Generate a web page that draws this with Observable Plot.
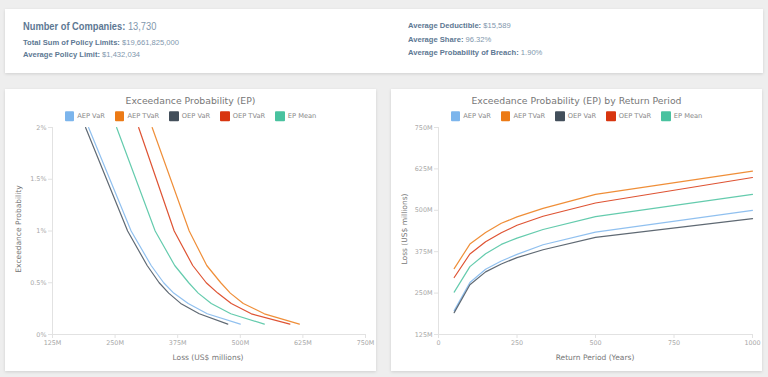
<!DOCTYPE html>
<html>
<head>
<meta charset="utf-8">
<script src="https://cdn.jsdelivr.net/npm/d3@7"></script>
<script src="https://cdn.jsdelivr.net/npm/@observablehq/plot@0.6"></script>
<style>
  html, body { margin: 0; padding: 0; background: #eeeeee; width: 768px; height: 377px; overflow: hidden; }
  .card { position: absolute; background: #fff; box-shadow: 0 1px 3px rgba(0,0,0,0.13); }
  .sum { position: absolute; white-space: nowrap; font-family: "Liberation Sans", sans-serif; color: #5d7893; transform: translateY(-50%); transform-origin: 0 50%; }
  .sum b { font-weight: bold; }
  .sum span { color: #8197ad; font-weight: normal; }
  .title { position: absolute; left: 0; right: 0; text-align: center; font-family: "DejaVu Sans", sans-serif; font-size: 9.3px; color: #777; transform: translateY(-50%); }
  .legend { position: absolute; left: 0; right: 0; display: flex; justify-content: center; gap: 10px; font-family: "DejaVu Sans", sans-serif; font-size: 6.7px; color: #888; transform: translateY(-50%); }
  .legend .item { display: flex; align-items: center; gap: 3px; }
  .legend .sw { width: 9.5px; height: 9.5px; border-radius: 1px; }
  .axt { position: absolute; white-space: nowrap; font-family: "DejaVu Sans", sans-serif; font-size: 7.5px; color: #777; }
  .chart { position: absolute; left: 0; }
</style>
</head>
<body>
<div class="card" style="left:5px;top:9px;width:758px;height:64px">
  <div class="sum" style="left:18px;top:17px;font-size:10px;transform:translateY(-50%) scaleX(0.93)"><b>Number of Companies:</b> <span>13,730</span></div>
  <div class="sum" style="left:18px;top:32.5px;font-size:7.6px"><b>Total Sum of Policy Limits:</b> <span>$19,661,825,000</span></div>
  <div class="sum" style="left:18px;top:45px;font-size:7.6px"><b>Average Policy Limit:</b> <span>$1,432,034</span></div>
  <div class="sum" style="left:403px;top:16px;font-size:7.6px"><b>Average Deductible:</b> <span>$15,589</span></div>
  <div class="sum" style="left:403px;top:29.7px;font-size:7.6px"><b>Average Share:</b> <span>96.32%</span></div>
  <div class="sum" style="left:403px;top:43px;font-size:7.6px"><b>Average Probability of Breach:</b> <span>1.90%</span></div>
</div>

<div class="card" id="leftCard" style="left:5px;top:89px;width:371px;height:282px">
  <div class="title" style="top:11px">Exceedance Probability (EP)</div>
  <div class="legend" style="top:27px"></div>
  <div class="chart" style="top:31px"></div>
  <div class="axt" style="left:13px;top:140px;transform:translate(-50%,-50%) rotate(-90deg)">Exceedance Probability</div>
  <div class="axt" style="left:203px;top:268px;transform:translate(-50%,-50%)">Loss (US$ millions)</div>
</div>

<div class="card" id="rightCard" style="left:391px;top:89px;width:371px;height:282px">
  <div class="title" style="top:11px">Exceedance Probability (EP) by Return Period</div>
  <div class="legend" style="top:27px"></div>
  <div class="chart" style="top:31px"></div>
  <div class="axt" style="left:13px;top:140px;transform:translate(-50%,-50%) rotate(-90deg)">Loss (US$ millions)</div>
  <div class="axt" style="left:204px;top:268px;transform:translate(-50%,-50%)">Return Period (Years)</div>
</div>

<script>
// ---- data ----
const seriesNames = ["AEP VaR", "AEP TVaR", "OEP VaR", "OEP TVaR", "EP Mean"];
const seriesColors = ["#7cb5ec", "#ec7a15", "#434f5b", "#d8350f", "#49c29f"];
const returnPeriods = [50, 100, 150, 200, 250, 333, 500, 1000];
const aepVaR  = [197, 282, 322, 347, 367, 396, 434, 500];
const aepTVaR = [324, 398, 433, 461, 480, 506, 548, 618];
const oepVaR  = [191, 275, 314, 338, 357, 381, 418, 475];
const oepTVaR = [297, 368, 405, 432, 455, 482, 522, 599];
const epMean  = [253, 330, 369, 397, 416, 442, 481, 548];
const lossTicks = [125, 250, 375, 500, 625, 750];
const probTicks = [0, 0.005, 0.01, 0.015, 0.02];
const probTickLabels = ["0%", "0.5%", "1%", "1.5%", "2%"];
const rpTicks = [0, 250, 500, 750, 1000];

const seriesValues = [aepVaR, aepTVaR, oepVaR, oepTVaR, epMean];
const rows = [];
seriesNames.forEach((s, i) => {
  returnPeriods.forEach((rp, j) => {
    rows.push({series: s, rp, prob: 1 / rp, loss: seriesValues[i][j]});
  });
});

// legends
document.querySelectorAll(".legend").forEach(el => {
  seriesNames.forEach((s, i) => {
    const it = document.createElement("div");
    it.className = "item";
    it.innerHTML = `<div class="sw" style="background:${seriesColors[i]}"></div><div>${s}</div>`;
    el.appendChild(it);
  });
});

const axisStyle = {fontFamily: "DejaVu Sans, sans-serif", fontSize: "6.4px", background: "transparent", overflow: "visible"};
const gridColor = "#e2e2e2";
const tickText = "#a8a8a8";

const left = Plot.plot({
  width: 371, height: 250,
  marginLeft: 47, marginRight: 11, marginTop: 7, marginBottom: 36,
  style: axisStyle,
  color: {domain: seriesNames, range: seriesColors},
  x: {domain: [125, 750], label: null},
  y: {domain: [0, 0.02], label: null},
  marks: [
    Plot.ruleX([125], {stroke: gridColor}),
    Plot.ruleY([0], {stroke: gridColor}),
    Plot.axisX({ticks: lossTicks, tickFormat: d => d + "M", tickSize: 4, tickPadding: 2, stroke: gridColor, fill: tickText, label: null}),
    Plot.axisY({ticks: probTicks, tickFormat: d => probTickLabels[probTicks.indexOf(d)], tickSize: 4, tickPadding: 2, stroke: gridColor, fill: tickText, label: null}),
    Plot.line(rows, {x: "loss", y: "prob", z: "series", stroke: "series", strokeWidth: 1.2, strokeOpacity: 0.85})
  ]
});
document.querySelector("#leftCard .chart").appendChild(left);

const right = Plot.plot({
  width: 371, height: 250,
  marginLeft: 47, marginRight: 10, marginTop: 7, marginBottom: 36,
  style: axisStyle,
  color: {domain: seriesNames, range: seriesColors},
  x: {domain: [0, 1000], label: null},
  y: {domain: [125, 750], label: null},
  marks: [
    Plot.ruleX([0], {stroke: gridColor}),
    Plot.ruleY([125], {stroke: gridColor}),
    Plot.axisX({ticks: rpTicks, tickFormat: d => String(d), tickSize: 4, tickPadding: 2, stroke: gridColor, fill: tickText, label: null}),
    Plot.axisY({ticks: lossTicks, tickFormat: d => d + "M", tickSize: 4, tickPadding: 2, stroke: gridColor, fill: tickText, label: null}),
    Plot.line(rows, {x: "rp", y: "loss", z: "series", stroke: "series", strokeWidth: 1.2, strokeOpacity: 0.85})
  ]
});
document.querySelector("#rightCard .chart").appendChild(right);
</script>
</body>
</html>
